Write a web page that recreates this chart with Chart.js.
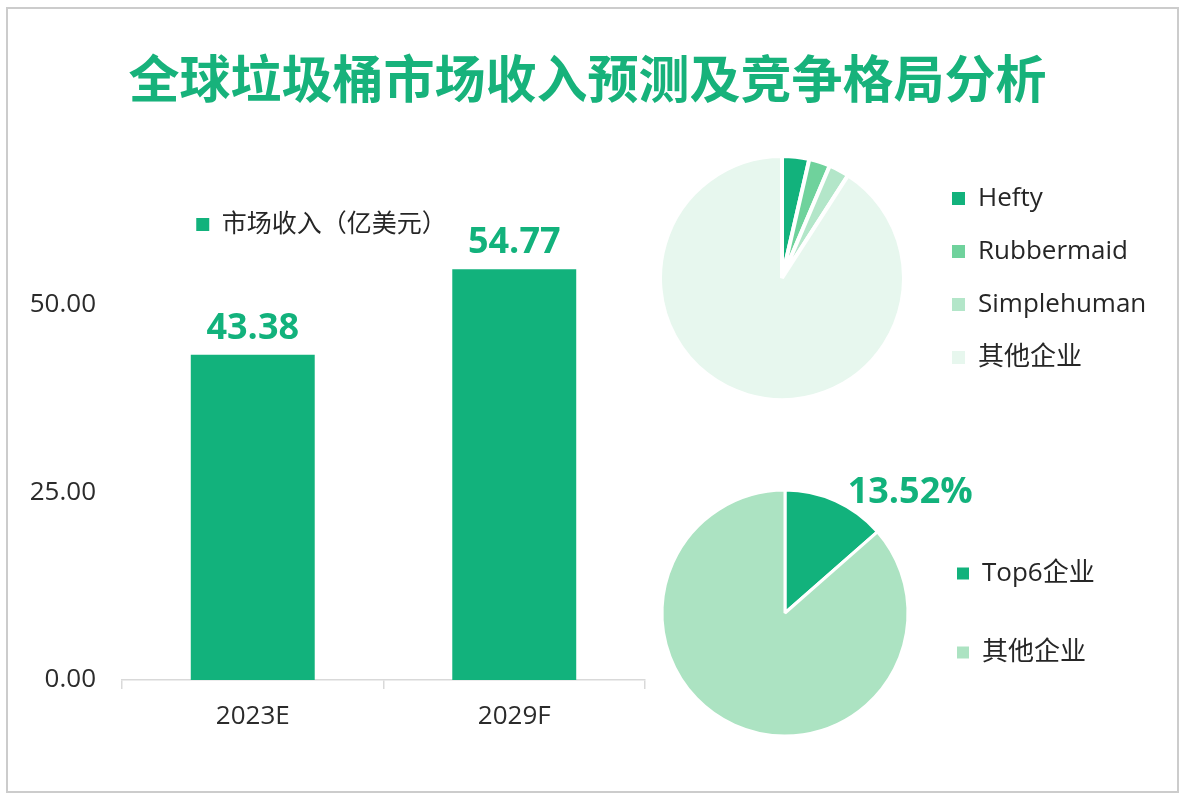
<!DOCTYPE html>
<html><head><meta charset="utf-8">
<script src="https://cdn.jsdelivr.net/npm/chart.js@4.4.1/dist/chart.umd.min.js"></script>
<style>
html,body{margin:0;padding:0;background:#fff;}
body{width:1185px;height:800px;position:relative;overflow:hidden;font-family:"Noto Sans CJK SC",sans-serif;}
#frame{position:absolute;left:6px;top:7px;width:1173px;height:786px;border:2px solid #cccccc;box-sizing:border-box;}
#title{position:absolute;left:-5px;top:48px;width:1185px;text-align:center;font-weight:700;font-size:51px;line-height:56px;color:#17b27b;white-space:nowrap;}
canvas{position:absolute;}
</style>
</head>
<body>
<div id="frame"></div>
<div id="title">全球垃圾桶市场收入预测及竞争格局分析</div>
<canvas id="bar" width="660" height="540" style="left:0px;top:200px;"></canvas>
<canvas id="pieTop" width="516" height="260" style="left:639px;top:148px;"></canvas>
<canvas id="pieBottom" width="474" height="306" style="left:640px;top:460px;"></canvas>
<script>
const categories = ['2023E', '2029F'];
const revenue = [43.38, 54.77];
const revenueLabel = '市场收入（亿美元）';
const yTicks = [0, 25, 50];
const shareLabels = ['Hefty', 'Rubbermaid', 'Simplehuman', '其他企业'];
const shareValues = [3.6, 2.8, 2.7, 90.9];
const topLabels = ['Top6企业', '其他企业'];
const topValues = [13.52, 86.48];

const GREEN = '#12b27c';
const FONT = '"Open Sans","Noto Sans CJK SC",sans-serif';
const TEXT = '#262626';

function fixLegend(w, h, dx) {
  return {
    id: 'fixLegend',
    beforeInit(chart) {
      const lg = chart.legend;
      const origFit = lg.fit;
      lg.fit = function () {
        origFit.call(this);
        if (w != null) this.width = w;
        if (h != null) this.height = h;
      };
      const origDraw = lg.draw;
      lg.draw = function () {
        const c = this.ctx;
        const savedClip = c.clip;
        c.save();
        if (dx) c.translate(dx, 0);
        c.clip = function () {};
        try { origDraw.apply(this, arguments); }
        finally { c.clip = savedClip; c.restore(); }
      };
    }
  };
}
function pieLegendLabels(chart) {
  const items = Chart.overrides.pie.plugins.legend.labels.generateLabels(chart);
  items.forEach(it => { it.lineWidth = 0; it.strokeStyle = 'rgba(0,0,0,0)'; });
  return items;
}

const barValues = {
  id: 'barValues',
  afterDatasetsDraw(chart) {
    const ctx = chart.ctx;
    const meta = chart.getDatasetMeta(0);
    ctx.save();
    ctx.font = 'bold 36px ' + FONT;
    ctx.fillStyle = GREEN;
    ctx.textAlign = 'center';
    ctx.textBaseline = 'alphabetic';
    meta.data.forEach((el, i) => {
      ctx.fillText(revenue[i].toFixed(2), el.x, el.y - 16);
    });
    ctx.restore();
  }
};

new Chart(document.getElementById('bar'), {
  type: 'bar',
  data: {
    labels: categories,
    datasets: [{
      label: revenueLabel,
      data: revenue,
      backgroundColor: GREEN,
      borderWidth: 0,
      categoryPercentage: 1,
      barPercentage: 0.474
    }]
  },
  options: {
    responsive: false,
    animation: false,
    layout: { padding: { right: 15 } },
    plugins: {
      legend: {
        position: 'top',
        labels: { font: { size: 25, family: FONT }, color: TEXT, boxWidth: 13, boxHeight: 13, padding: 12 }
      },
      tooltip: { enabled: false }
    },
    scales: {
      x: {
        grid: { display: true, drawOnChartArea: false, drawTicks: true, tickLength: 9, offset: true, color: '#d9d9d9', lineWidth: 1.5 },
        border: { display: true, color: '#d9d9d9', width: 1.5 },
        ticks: { font: { size: 26, family: FONT }, color: '#2b2b2b', padding: 12 },
        afterFit(a) { a.height = 60; a.paddingLeft = 0; a.paddingRight = 0; }
      },
      y: {
        min: 0, max: 60,
        grid: { display: false, drawTicks: false },
        border: { display: false },
        ticks: { stepSize: 25, font: { size: 26, family: FONT }, color: '#2b2b2b', padding: 26,
          callback: v => Number(v).toFixed(2) },
        afterBuildTicks(a) { a.ticks = yTicks.map(v => ({ value: v })); },
        afterFit(a) { a.width = 122; a.paddingTop = 0; a.paddingBottom = 0; }
      }
    }
  },
  plugins: [fixLegend(null, 30, -1), barValues]
});

new Chart(document.getElementById('pieTop'), {
  type: 'pie',
  data: {
    labels: shareLabels,
    datasets: [{
      data: shareValues,
      backgroundColor: ['#12b27c', '#6fd29c', '#b3e6c9', '#e7f7ee'],
      borderColor: '#ffffff',
      borderWidth: 4,
      radius: 122,
      clip: false
    }]
  },
  options: {
    responsive: false,
    animation: false,
    plugins: {
      legend: {
        position: 'right',
        labels: { font: { size: 26, family: FONT }, color: TEXT, boxWidth: 13, boxHeight: 13, padding: 27, generateLabels: pieLegendLabels }
      },
      tooltip: { enabled: false }
    }
  },
  plugins: [fixLegend(230, null, 0)]
});

const pctLabel = {
  id: 'pctLabel',
  afterDatasetsDraw(chart) {
    const ctx = chart.ctx;
    const el = chart.getDatasetMeta(0).data[0];
    const p = el.getProps(['x', 'y', 'startAngle', 'endAngle', 'outerRadius'], true);
    const mid = (p.startAngle + p.endAngle) / 2;
    const ax = p.x + Math.cos(mid) * p.outerRadius;
    const ay = p.y + Math.sin(mid) * p.outerRadius;
    ctx.save();
    ctx.font = 'bold 36px ' + FONT;
    ctx.fillStyle = GREEN;
    ctx.textAlign = 'left';
    ctx.textBaseline = 'middle';
    ctx.fillText(topValues[0].toFixed(2) + '%', ax + 12, ay - 8);
    ctx.restore();
  }
};

new Chart(document.getElementById('pieBottom'), {
  type: 'pie',
  data: {
    labels: topLabels,
    datasets: [{
      data: topValues,
      backgroundColor: ['#12b27c', '#ace3c2'],
      borderColor: '#ffffff',
      borderWidth: 3,
      radius: 123,
      clip: false
    }]
  },
  options: {
    responsive: false,
    animation: false,
    layout: { padding: { left: 26 } },
    plugins: {
      legend: {
        position: 'right',
        labels: { font: { size: 26, family: FONT }, color: TEXT, boxWidth: 12, boxHeight: 12, padding: 53, generateLabels: pieLegendLabels }
      },
      tooltip: { enabled: false }
    }
  },
  plugins: [fixLegend(210, null, 0), pctLabel]
});
</script>
</body></html>
